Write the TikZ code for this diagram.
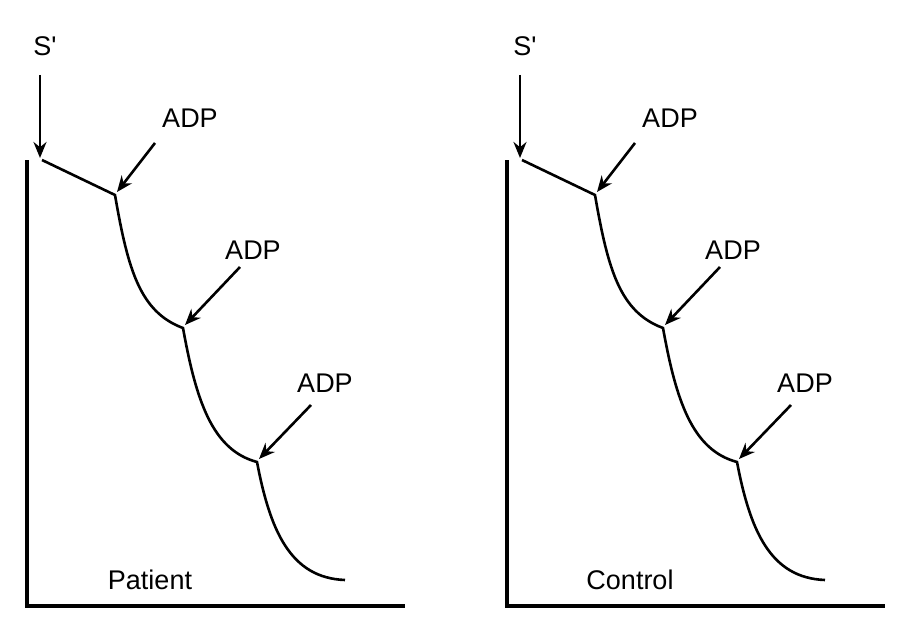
\documentclass[tikz,border=0pt]{standalone}
\usepackage{fontspec}
\setmainfont{Liberation Sans}
\usetikzlibrary{arrows.meta}
\begin{document}
\begin{tikzpicture}[x=1pt,y=-1pt,
  ax/.style={line width=3.6pt},
  cur/.style={line width=2.6pt},
  arr/.style={line width=2.6pt,-{Stealth[length=16pt,width=13pt]}},
  lbl/.style={font=\fontsize{27}{30}\selectfont,inner sep=0pt}]
\useasboundingbox (0,0) rectangle (922,642);
\foreach \dx/\name in {0/Patient,480/Control}{
\begin{scope}[xshift=\dx]
\coordinate (top) at (27,160);
\coordinate (org) at (27,606);
\coordinate (xe) at (405,606);
\draw[ax] (top) -- (org) -- (xe);
\node[lbl] (s) at (45,46) {S\textquotesingle};
\coordinate (sa) at (40,75);
\coordinate (se) at (40,158);
\coordinate (p0) at (42,160);
\coordinate (p1) at (115,195);
\coordinate (p2) at (183,328);
\coordinate (p3) at (257,462);
\coordinate (p4) at (345,580);
\draw[arr] (sa) -- (se);
\draw[cur] (p0) -- (p1) .. controls (128,270) and (140,312) .. (p2)
  .. controls (196,400) and (212,450) .. (p3)
  .. controls (270,530) and (290,578) .. (p4);
\node[lbl] (a1) at (190,118) {ADP};
\node[lbl] (a2) at (253,250) {ADP};
\node[lbl] (a3) at (325,383) {ADP};
\coordinate (b1) at (155,143);
\coordinate (b2) at (240,267);
\coordinate (b3) at (311,405);
\draw[arr] (b1) -- (117,192);
\draw[arr] (b2) -- (185,325);
\draw[arr] (b3) -- (259,459);
\node[lbl] (n) at (150,580) {\name};
\end{scope}}
\end{tikzpicture}
\end{document}
